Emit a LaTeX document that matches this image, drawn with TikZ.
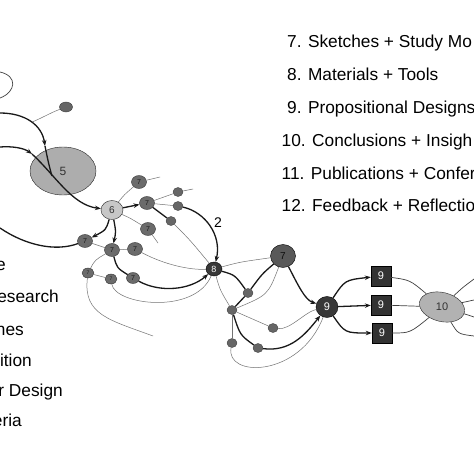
\documentclass[tikz,border=0pt]{standalone}
\usepackage{fontspec}
\setmainfont{Liberation Sans}
\usetikzlibrary{shapes.geometric,arrows.meta}
\tikzset{
  thk/.style={line width=1.3pt, black!90},
  thn/.style={line width=0.5pt, black!55},
  mid/.style={line width=0.7pt, black!75},
  arr/.style={-{Stealth[length=6pt,width=4.5pt]}},
  sm/.style={ellipse, draw=black!75, fill=black!60, inner sep=0pt, minimum width=10pt, minimum height=9pt},
  sev/.style={ellipse, draw=black!80, fill=black!58, inner sep=0pt, minimum width=15pt, minimum height=13pt, font=\fontsize{7}{7}\selectfont, text=black!90},
  dk/.style={ellipse, draw=black, fill=black!78, inner sep=0pt, text=white},
  lt/.style={ellipse, draw=black!85, inner sep=0pt, text=black!80},
  bx/.style={rectangle, draw=black, fill=black!80, minimum width=20pt, minimum height=20pt, inner sep=0pt, text=white, font=\fontsize{11}{11}\selectfont},
  leg/.style={inner sep=0pt, font=\fontsize{17.3}{20}\selectfont, text=black},
}
\begin{document}
\begin{tikzpicture}[x=1pt,y=-1pt]
\useasboundingbox (0,0) rectangle (474,474);
\clip (0,0) rectangle (474,474);
\fill[white] (0,0) rectangle (474,474);

% legends
\node[leg, anchor=base west] (t7) at (287,47.3) {7. Sketches + Study Mo};
\node[leg, anchor=base west] (t8) at (287,80) {8. Materials + Tools};
\node[leg, anchor=base west] (t9) at (287,113) {9. Propositional Designs};
\node[leg, anchor=base west] (t10) at (281.5,146.7) {10. Conclusions + Insigh};
\node[leg, anchor=base west] (t11) at (281.5,179) {11. Publications + Confer};
\node[leg, anchor=base west] (t12) at (281.5,211.7) {12. Feedback + Reflectio};

\node[leg, anchor=base east] (l1) at (6,270.7) {e};
\node[leg, anchor=base east] (l2) at (59,302.7) {esearch};
\node[leg, anchor=base east] (l3) at (24,335) {nes};
\node[leg, anchor=base east] (l4) at (32,366.7) {ition};
\node[leg, anchor=base east] (l5) at (63,396.7) {r Design};
\node[leg, anchor=base east] (l6) at (22,426.7) {eria};

% big nodes
\node[lt, fill=black!32, minimum width=66pt, minimum height=48pt, font=\fontsize{12}{12}\selectfont] (n5) at (63,171) {5};
\node[lt, fill=black!22, minimum width=22pt, minimum height=19pt, font=\fontsize{10}{10}\selectfont] (n6) at (112,210) {6};
\node[lt, fill=black!30, minimum width=46pt, minimum height=29pt, rotate=-14] (n10) at (442,307) {};
\node[font=\fontsize{11}{11}\selectfont, text=black!80] (n10t) at (n10) {10};

\node[sm, minimum width=13pt, minimum height=10pt] (nA) at (66,107) {};

\node[sev] (a1) at (139,182) {7};
\node[sev] (a2) at (147,203) {7};
\node[sev] (a3) at (148,229) {7};
\node[sev] (a4) at (85,241) {7};
\node[sev] (a5) at (112,250) {7};
\node[sev] (a6) at (135,249) {7};
\node[sev, minimum width=13pt, minimum height=11pt] (a7) at (133,278) {7};
\node[sev, minimum width=12pt, minimum height=10pt, font=\fontsize{5}{5}\selectfont] (a8) at (88,273) {7};
\node[sev, minimum width=12pt, minimum height=10pt, font=\fontsize{5}{5}\selectfont] (a9) at (111,279) {7};

\node[sm] (b1) at (178,192) {};
\node[sm] (b2) at (178,206) {};
\node[sm] (b3) at (171,221) {};
\node[sm] (b4) at (248,293) {};
\node[sm] (b5) at (232,310) {};
\node[sm] (b6) at (273,328) {};
\node[sm] (b7) at (258,348) {};
\node[sm] (b8) at (232,343) {};

\node[dk, minimum width=16pt, minimum height=14pt, font=\fontsize{9}{9}\selectfont] (n8) at (214,269) {8};
\node[dk, fill=black!65, minimum width=25pt, minimum height=23pt, text=black!95, font=\fontsize{10}{10}\selectfont] (n7) at (283,256) {7};
\node[dk, minimum width=22pt, minimum height=21pt, font=\fontsize{11}{11}\selectfont] (n9) at (327,307) {9};

\node[bx] (x1) at (381,276) {9};
\node[bx] (x2) at (381,305) {9};
\node[bx] (x3) at (382,333) {9};

\node[font=\fontsize{14}{14}\selectfont] (lab2) at (218,223) {2};

% free ends
\coordinate (lp1) at (0,72);
\coordinate (lp2) at (0,98);
\coordinate (La) at (0,113);
\coordinate (ka) at (45,146);
\coordinate (kb) at (52,176);
\coordinate (Lb) at (0,147);
\coordinate (kc) at (32,154);
\coordinate (kd) at (32,122);
\coordinate (Lc) at (0,228);
\coordinate (e1) at (160,177);
\coordinate (e2) at (158,243);
\coordinate (e3) at (153,336);
\coordinate (e4) at (193,189);
\coordinate (r1) at (474,279);
\coordinate (r2) at (474,300);
\coordinate (r3) at (474,317);
\coordinate (r4) at (474,336);

% connectors
\draw[mid] (lp1) .. controls (18,76) and (16,92) .. (lp2);
\draw[thk,arr] (La) .. controls (25,113) and (42,125) .. (ka);
\draw[thk] (ka) .. controls (47,156) and (49,166) .. (kb);
\draw[thk,arr] (Lb) .. controls (12,146) and (24,148) .. (kc);
\draw[thk,arr] (kc) .. controls (55,175) and (72,205) .. (n6);
\draw[thn] (nA) .. controls (50,113) and (40,119) .. (kd);

\draw[thn] (n6) .. controls (124,195) .. (a1);
\draw[thn] (a1) -- (e1);
\draw[thk,arr] (n6) -- (a2);
\draw[thn] (n6) .. controls (130,218) .. (a3);
\draw[thn] (a3) -- (e2);
\draw[thk,arr] (n6) .. controls (106,230) .. (a4);
\draw[thk,arr] (n6) .. controls (116,232) .. (a5);
\draw[thk] (Lc) .. controls (25,245) and (55,252) .. (a4);
\draw[thn] (a4) -- (a5);
\draw[thn] (a5) -- (a6);
\draw[thk] (a5) .. controls (117,268) .. (a7);
\draw[thk,arr] (a7) .. controls (160,293) and (190,290) .. (n8);
\draw[thn] (a6) .. controls (165,265) and (190,270) .. (n8);
\draw[thn] (a8) -- (a9);
\draw[thn] (a8) .. controls (95,260) .. (a5);
\draw[thn] (a9) .. controls (115,305) and (195,315) .. (n8);
\draw[thn] (a8) .. controls (83,315) and (110,320) .. (e3);

\draw[thn] (a2) -- (b1);
\draw[thn] (a2) -- (b2);
\draw[thk] (a2) -- (b3);
\draw[thn] (b1) -- (e4);
\draw[thk,arr] (b2) .. controls (205,212) and (222,235) .. (n8);
\draw[thn] (b3) .. controls (190,240) .. (n8);

\draw[thn] (n8) .. controls (240,262) .. (n7);
\draw[thk] (n8) .. controls (235,275) .. (b4);
\draw[thk] (b4) .. controls (262,274) .. (n7);
\draw[thn] (n8) .. controls (220,290) .. (b5);
\draw[thk] (b5) -- (b4);
\draw[thn] (b5) .. controls (268,295) .. (n7);
\draw[thk,arr] (n7) .. controls (298,285) and (305,300) .. (n9);
\draw[thn] (b5) -- (b6);
\draw[thn] (b6) .. controls (290,330) and (305,312) .. (n9);
\draw[thk] (b5) .. controls (240,335) .. (b7);
\draw[thk,arr] (b7) .. controls (290,352) and (305,335) .. (n9);
\draw[thn] (b5) -- (b8);
\draw[thn] (b8) .. controls (225,378) and (300,378) .. (n9);

\draw[thk,arr] (n9) .. controls (345,280) .. (x1);
\draw[thk,arr] (n9) -- (x2);
\draw[thk,arr] (n9) .. controls (345,333) .. (x3);
\draw[mid] (x1) .. controls (410,280) .. (n10);
\draw[mid] (x2) -- (n10);
\draw[mid] (x3) .. controls (410,333) .. (n10);

\draw[mid] (n10) .. controls (462,288) .. (r1);
\draw[mid] (n10) -- (r2);
\draw[mid] (n10) .. controls (468,315) .. (r3);
\draw[mid] (n10) .. controls (458,334) .. (r4);
\end{tikzpicture}
\end{document}
